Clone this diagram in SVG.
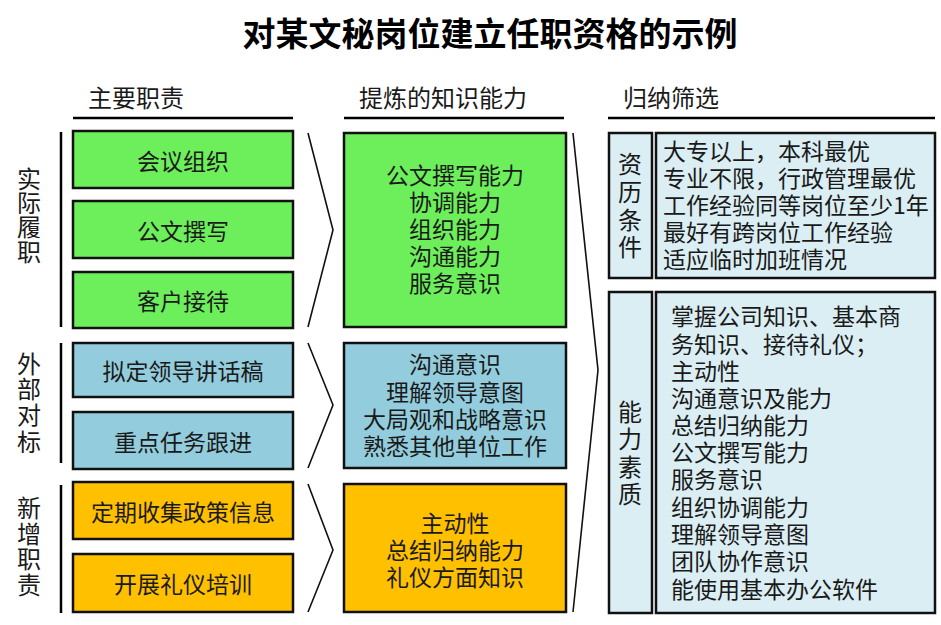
<svg xmlns="http://www.w3.org/2000/svg" width="941" height="625" viewBox="0 0 941 625">
<style>
text{font-family:"Noto Sans CJK SC","Noto Sans",sans-serif;fill:#1a1a1a;dominant-baseline:central}
tspan{dominant-baseline:central}
.title{font-size:33px;font-weight:bold;text-anchor:middle;fill:#000}
.hdr{font-size:24px}
.lab{font-size:24px;text-anchor:middle}
.bt{font-size:23px;text-anchor:middle}
.rt{font-size:23px}
.box{stroke:#111;stroke-width:2.5}
.g{fill:#6CEF5A}.b{fill:#93CDDD}.o{fill:#FFC000}.l{fill:#DAEEF3}
.rule{stroke:#000;stroke-width:2.5}
.chev{fill:none;stroke:#111;stroke-width:1.6}
</style>
<rect width="941" height="625" fill="#fff"/>
<text class="title" x="490" y="32">对某文秘岗位建立任职资格的示例</text>
<g id="headers">
<text class="hdr" x="88" y="96">主要职责</text>
<text class="hdr" x="359" y="96">提炼的知识能力</text>
<text class="hdr" x="623" y="96">归纳筛选</text>
<line class="rule" x1="73" y1="118" x2="293" y2="118"/>
<line class="rule" x1="344" y1="118" x2="564" y2="118"/>
<line class="rule" x1="608" y1="118" x2="935" y2="118"/>
</g>
<g id="group-labels">
<line class="rule" x1="61" y1="132" x2="61" y2="327"/>
<line class="rule" x1="61" y1="343" x2="61" y2="463"/>
<line class="rule" x1="61" y1="485" x2="61" y2="613"/>
<text class="lab"><tspan x="29" y="177">实</tspan><tspan x="29" y="201">际</tspan><tspan x="29" y="225">履</tspan><tspan x="29" y="250">职</tspan></text>
<text class="lab"><tspan x="29" y="362">外</tspan><tspan x="29" y="387">部</tspan><tspan x="29" y="413">对</tspan><tspan x="29" y="440">标</tspan></text>
<text class="lab"><tspan x="29" y="506">新</tspan><tspan x="29" y="532">增</tspan><tspan x="29" y="557">职</tspan><tspan x="29" y="583">责</tspan></text>
</g>
<g id="duty1"><rect class="box g" x="73" y="131" width="220" height="57"/><text class="bt" x="183" y="160">会议组织</text></g>
<g id="duty2"><rect class="box g" x="73" y="201" width="220" height="57"/><text class="bt" x="183" y="230">公文撰写</text></g>
<g id="duty3"><rect class="box g" x="73" y="272" width="220" height="56"/><text class="bt" x="183" y="300">客户接待</text></g>
<g id="duty4"><rect class="box b" x="73" y="343" width="220" height="54"/><text class="bt" x="183" y="370">拟定领导讲话稿</text></g>
<g id="duty5"><rect class="box b" x="73" y="412" width="220" height="57"/><text class="bt" x="183" y="441">重点任务跟进</text></g>
<g id="duty6"><rect class="box o" x="73" y="482" width="220" height="57"/><text class="bt" x="183" y="511">定期收集政策信息</text></g>
<g id="duty7"><rect class="box o" x="73" y="554" width="220" height="58"/><text class="bt" x="183" y="583">开展礼仪培训</text></g>
<g id="skill1"><rect class="box g" x="344" y="133" width="222" height="194"/>
<text class="bt"><tspan x="455" y="174">公文撰写能力</tspan><tspan x="455" y="201">协调能力</tspan><tspan x="455" y="228">组织能力</tspan><tspan x="455" y="255">沟通能力</tspan><tspan x="455" y="282">服务意识</tspan></text></g>
<g id="skill2"><rect class="box b" x="344" y="343" width="222" height="125"/>
<text class="bt"><tspan x="455" y="363">沟通意识</tspan><tspan x="455" y="391">理解领导意图</tspan><tspan x="455" y="418">大局观和战略意识</tspan><tspan x="455" y="445">熟悉其他单位工作</tspan></text></g>
<g id="skill3"><rect class="box o" x="344" y="484" width="222" height="128"/>
<text class="bt"><tspan x="455" y="522">主动性</tspan><tspan x="455" y="549">总结归纳能力</tspan><tspan x="455" y="576">礼仪方面知识</tspan></text></g>
<g id="qual-label"><rect class="box l" x="609" y="133" width="43" height="145"/>
<text class="lab"><tspan x="630" y="162">资</tspan><tspan x="630" y="190">历</tspan><tspan x="630" y="218">条</tspan><tspan x="630" y="245">件</tspan></text></g>
<g id="qual-content"><rect class="box l" x="656" y="133" width="279" height="145"/>
<text class="rt"><tspan x="663" y="150">大专以上，本科最优</tspan><tspan x="663" y="177">专业不限，行政管理最优</tspan><tspan x="663" y="204">工作经验同等岗位至少1年</tspan><tspan x="663" y="231">最好有跨岗位工作经验</tspan><tspan x="663" y="258">适应临时加班情况</tspan></text></g>
<g id="ability-label"><rect class="box l" x="609" y="292" width="43" height="321"/>
<text class="lab"><tspan x="630" y="410">能</tspan><tspan x="630" y="437">力</tspan><tspan x="630" y="465">素</tspan><tspan x="630" y="492">质</tspan></text></g>
<g id="ability-content"><rect class="box l" x="656" y="292" width="279" height="321"/>
<text class="rt"><tspan x="671" y="315">掌握公司知识、基本商</tspan><tspan x="671" y="343">务知识、接待礼仪；</tspan><tspan x="671" y="370">主动性</tspan><tspan x="671" y="397">沟通意识及能力</tspan><tspan x="671" y="424">总结归纳能力</tspan><tspan x="671" y="451">公文撰写能力</tspan><tspan x="671" y="478">服务意识</tspan><tspan x="671" y="506">组织协调能力</tspan><tspan x="671" y="533">理解领导意图</tspan><tspan x="671" y="560">团队协作意识</tspan><tspan x="671" y="588">能使用基本办公软件</tspan></text></g>
<g id="connectors">
<polyline class="chev" points="308,133 333,230 308,327"/>
<polyline class="chev" points="308,343 333,405 308,468"/>
<polyline class="chev" points="308,484 333,550 308,612"/>
<polyline class="chev" points="573,133 598,370 573,612"/>
</g>
</svg>
